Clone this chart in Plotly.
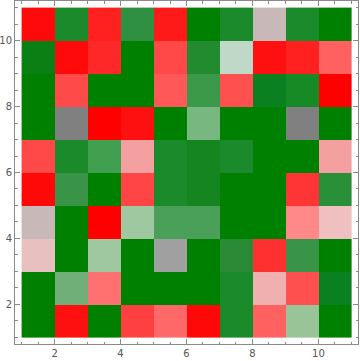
import plotly.graph_objects as go

# Cell colours, rows listed from top (y 10-11) to bottom (y 1-2), columns x 1..10
row_10 = ["#ff0a0a", "#1a8a2a", "#ff2020", "#2e9040", "#ff1a1a", "#008000", "#1a8a2a", "#c8b8b8", "#1a8a2a", "#008000"]
row_9 = ["#0a7f14", "#ff0a0a", "#ff2828", "#008000", "#ff4848", "#228b30", "#c0d8c8", "#ff1010", "#ff2020", "#ff6060"]
row_8 = ["#008000", "#ff4a4a", "#008000", "#008000", "#ff5858", "#3a9a4a", "#ff5050", "#0a8020", "#158a25", "#ff0000"]
row_7 = ["#008000", "#808080", "#ff0000", "#ff1010", "#008000", "#78b880", "#008000", "#008000", "#808080", "#008000"]
row_6 = ["#ff4848", "#1a8a2a", "#40a050", "#f4a0a0", "#1a8a2a", "#158520", "#1a8a2a", "#008000", "#008000", "#f4a0a0"]
row_5 = ["#ff0808", "#3a9448", "#008000", "#ff4545", "#1a8a2a", "#158520", "#008000", "#008000", "#ff3535", "#2a9038"]
row_4 = ["#c8b8b8", "#008000", "#ff0000", "#a0c8a0", "#4aa058", "#4aa058", "#008000", "#008000", "#ff8888", "#f0c0c0"]
row_3 = ["#e8c0c0", "#008000", "#a0c8a0", "#008000", "#a0a0a0", "#008000", "#2a8a35", "#ff3030", "#3a9448", "#008000"]
row_2 = ["#008000", "#70b078", "#ff7070", "#008000", "#008000", "#008000", "#1a8a2a", "#f0b0b0", "#ff5050", "#0a8020"]
row_1 = ["#008000", "#ff1010", "#008000", "#ff4040", "#ff6868", "#ff0808", "#1a8a2a", "#ff6060", "#98c498", "#008000"]

rows_top_down = [row_10, row_9, row_8, row_7, row_6, row_5, row_4, row_3, row_2, row_1]
x_centers = [1.5, 2.5, 3.5, 4.5, 5.5, 6.5, 7.5, 8.5, 9.5, 10.5]
y_centers = [1.5, 2.5, 3.5, 4.5, 5.5, 6.5, 7.5, 8.5, 9.5, 10.5]
x_ticks = [2, 4, 6, 8, 10]
y_ticks = [2, 4, 6, 8, 10]

rows_bottom_up = list(reversed(rows_top_down))
palette = sorted({c for row in rows_bottom_up for c in row})
n = len(palette)
z = [[palette.index(c) for c in row] for row in rows_bottom_up]
colorscale = []
for i, c in enumerate(palette):
    colorscale.append([i / n, c])
    colorscale.append([(i + 1) / n, c])

fig = go.Figure(go.Heatmap(
    z=z, x=x_centers, y=y_centers, colorscale=colorscale,
    zmin=-0.5, zmax=n - 0.5, showscale=False, hoverinfo="skip", xgap=0, ygap=0,
))

axis_common = dict(
    showgrid=False, zeroline=False, showline=True, linecolor="#8a8a8a", linewidth=1,
    mirror="ticks", ticks="inside", ticklen=5, tickwidth=1, tickcolor="#8a8a8a",
    tickfont=dict(family="DejaVu Sans", size=10, color="#555555"),
    minor=dict(dtick=0.5, tick0=0, ticks="inside", ticklen=2.5, tickcolor="#8a8a8a", tickwidth=1),
    automargin=False, autorange=False, tickmode="array",
)

fig.update_layout(
    width=360, height=361,
    margin=dict(l=15, r=2, t=1, b=17),
    paper_bgcolor="white", plot_bgcolor="white",
    xaxis=dict(range=[0.8, 11.2], tickvals=x_ticks, **axis_common),
    yaxis=dict(range=[0.8, 11.2], tickvals=y_ticks, **axis_common),
)

fig.write_html(
    "out.html",
    config={"displayModeBar": False, "staticPlot": True},
    post_script="document.body.style.margin='0';document.body.style.overflow='hidden';",
)
